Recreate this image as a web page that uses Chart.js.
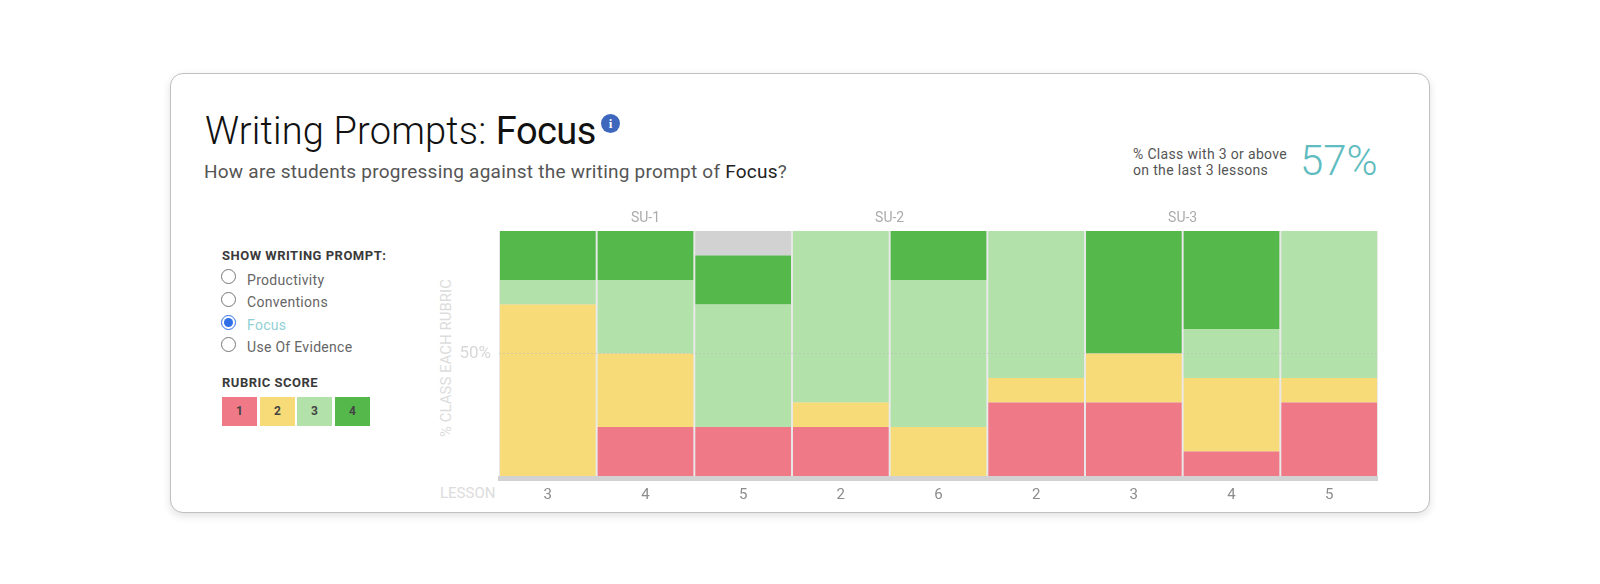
<!DOCTYPE html>
<html>
<head>
<meta charset="utf-8">
<title>Writing Prompts: Focus</title>
<script src="https://cdn.jsdelivr.net/npm/chart.js@4"></script>
<style>
    html, body { margin: 0; padding: 0; background: #fff; }
    body { width: 1600px; height: 584px; position: relative; overflow: hidden; font-family: Roboto, sans-serif; }
    .abs { position: absolute; white-space: nowrap; }
    .card { left: 170px; top: 73px; width: 1258px; height: 438px; border: 1px solid #c0c0c0; border-radius: 13px; box-shadow: 0 3px 8px rgba(0,0,0,0.12); background: #fff; }
    .title { left: 205px; top: 108px; font-size: 39px; line-height: 46px; font-weight: 300; letter-spacing: 0.18px; color: #111; transform-origin: left top; transform: scaleX(0.975); }
    .title b { font-weight: 400; letter-spacing: -0.6px; }
    .info { left: 601px; top: 114px; width: 19px; height: 19px; border-radius: 50%; background: #3d66bd; color: #fff; font: 700 13px/19px "Liberation Serif", serif; text-align: center; }
    .sub { left: 204px; top: 160px; font-size: 19px; line-height: 24px; letter-spacing: 0.24px; color: #555; }
    .sub b { font-weight: 400; color: #222; }
    .kpi { left: 1133px; top: 146px; font-size: 14px; line-height: 16px; letter-spacing: 0.33px; color: #555; }
    .big { left: 1300px; top: 137px; font-size: 42px; line-height: 48px; font-weight: 300; color: #5fbcc0; }
    .head { left: 222px; font-size: 13px; line-height: 16px; font-weight: 700; color: #3a3a3a; letter-spacing: 0.5px; }
    input[type=radio] { position: absolute; left: 221px; width: 15px; height: 15px; margin: 0; accent-color: #2f6fe8; }
    .opt { left: 247px; font-size: 14px; line-height: 18px; letter-spacing: 0.3px; color: #666; }
    .swatch { top: 397px; width: 35px; height: 29px; font-size: 12px; line-height: 29px; font-weight: 700; text-align: center; color: #444; }
    .faint { color: #dcdcdc; font-size: 15px; line-height: 16px; }
    #chart { position: absolute; left: 420px; top: 200px; }
</style>
</head>
<body>
<div class="abs card"></div>
<div class="abs title">Writing Prompts: <b>Focus</b></div>
<div class="abs info">i</div>
<div class="abs sub">How are students progressing against the writing prompt of <b>Focus</b>?</div>
<div class="abs kpi">% Class with 3 or above<br>on the last 3 lessons</div>
<div class="abs big">57%</div>
<div class="abs head" style="top:248px">SHOW WRITING PROMPT:</div>
<div id="prompts"></div>
<div class="abs head" style="top:375px">RUBRIC SCORE</div>
<div id="swatches"></div>
<div class="abs faint" style="left:446px;top:358px;transform:translate(-50%,-50%) rotate(-90deg)">% CLASS EACH RUBRIC</div>
<div class="abs faint" style="left:440px;top:485px">LESSON</div>
<canvas id="chart" width="960" height="310"></canvas>

<script>
const lessons = ['3', '4', '5', '2', '6', '2', '3', '4', '5'];
const score1 = [0, 20, 20, 20, 0, 30, 30, 10, 30];
const score2 = [70, 30, 0, 10, 20, 10, 20, 30, 10];
const score3 = [10, 30, 50, 70, 60, 60, 0, 20, 60];
const score4 = [20, 20, 20, 0, 20, 0, 50, 40, 0];
const noData = [0, 0, 10, 0, 0, 0, 0, 0, 0];
const yTicks = [50];

const units = ['SU-1', 'SU-2', 'SU-3'];
const unitLessons = [3, 2, 4];

const prompts = ['Productivity', 'Conventions', 'Focus', 'Use Of Evidence'];
const promptRadioTop = [269, 292, 315, 337];
const promptLabelTop = [271, 293, 316, 338];
const selectedPrompt = 'Focus';

const rubricScores = ['1', '2', '3', '4'];
const rubricColors = ['#ef7987', '#f6db78', '#b2e2a9', '#55b84b'];
const noDataColor = '#d2d2d2';
const swatchLeft = [222, 260, 297, 335];

// Left hand controls
prompts.forEach((name, i) => {
    const radio = document.createElement('input');
    radio.type = 'radio';
    radio.name = 'prompt';
    radio.checked = name === selectedPrompt;
    radio.style.top = promptRadioTop[i] + 'px';
    document.getElementById('prompts').appendChild(radio);

    const label = document.createElement('div');
    label.className = 'abs opt';
    label.style.top = promptLabelTop[i] + 'px';
    if (name === selectedPrompt) label.style.color = '#8fd0d4';
    label.textContent = name;
    document.getElementById('prompts').appendChild(label);
});

rubricScores.forEach((score, i) => {
    const box = document.createElement('div');
    box.className = 'abs swatch';
    box.style.left = swatchLeft[i] + 'px';
    box.style.background = rubricColors[i];
    box.textContent = score;
    document.getElementById('swatches').appendChild(box);
});

// Centre of each SU group, in lesson units
let unitStart = 0;
const unitCentres = unitLessons.map(n => {
    const centre = unitStart + n / 2;
    unitStart += n;
    return centre;
});

// Pale backing for the column gaps and the thick grey base under the plot
const plotBackground = {
    id: 'plotBackground',
    beforeDatasetsDraw(chart) {
        const a = chart.chartArea;
        const ctx = chart.ctx;
        ctx.save();
        ctx.fillStyle = '#e9e9e9';
        ctx.fillRect(a.left, a.top, a.width, a.height);
        ctx.fillStyle = '#d2d2d2';
        ctx.fillRect(a.left - 1, a.bottom, a.width + 1, 5);
        ctx.restore();
    }
};

function barSet(label, data, color) {
    return {
        label: label,
        data: data,
        backgroundColor: color,
        borderWidth: 0,
        categoryPercentage: 0.98,
        barPercentage: 1
    };
}

new Chart(document.getElementById('chart').getContext('2d'), {
    type: 'bar',
    data: {
        labels: lessons,
        datasets: [
            barSet('1', score1, rubricColors[0]),
            barSet('2', score2, rubricColors[1]),
            barSet('3', score3, rubricColors[2]),
            barSet('4', score4, rubricColors[3]),
            barSet('No data', noData, noDataColor)
        ]
    },
    plugins: [plotBackground],
    options: {
        responsive: false,
        animation: false,
        layout: { padding: { right: 2 } },
        plugins: {
            legend: { display: false },
            tooltip: { enabled: false }
        },
        scales: {
            x: {
                stacked: true,
                grid: { display: false },
                border: { display: false },
                ticks: {
                    color: '#8c8c8c',
                    font: { family: 'Roboto', size: 15 },
                    padding: 2,
                    maxRotation: 0
                },
                afterFit(axis) { axis.height = 34; }
            },
            units: {
                type: 'linear',
                position: 'top',
                offset: false,
                min: 0,
                max: lessons.length,
                grid: { display: false, drawTicks: false },
                border: { display: false },
                afterBuildTicks(axis) { axis.ticks = unitCentres.map(v => ({ value: v })); },
                ticks: {
                    autoSkip: false,
                    color: '#ababab',
                    font: { family: 'Roboto', size: 14 },
                    padding: 4,
                    maxRotation: 0,
                    callback: value => units[unitCentres.indexOf(value)]
                },
                afterFit(axis) { axis.height = 31; }
            },
            y: {
                stacked: true,
                min: 0,
                max: 100,
                afterBuildTicks(axis) { axis.ticks = yTicks.map(v => ({ value: v })); },
                grid: { color: 'rgba(190,190,190,0.55)', z: 1, drawTicks: false },
                border: { display: false, dash: [2, 2] },
                ticks: {
                    color: '#d8d8d8',
                    font: { family: 'Roboto', size: 17 },
                    padding: 8,
                    callback: value => value + '%'
                },
                afterFit(axis) { axis.width = 79; }
            }
        }
    }
});
</script>
</body>
</html>
